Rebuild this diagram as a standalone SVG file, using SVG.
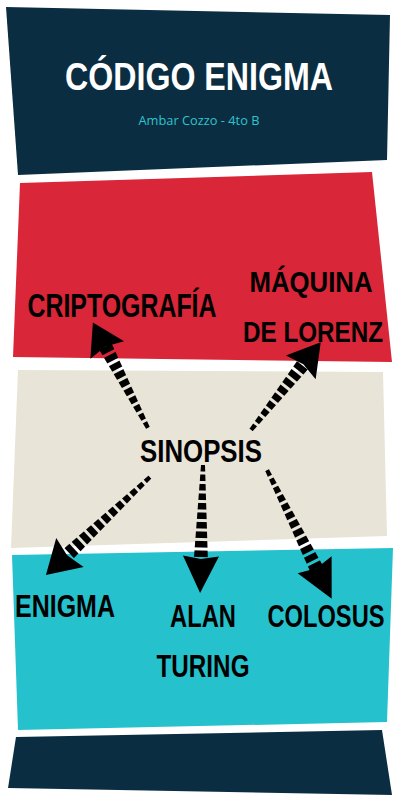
<svg xmlns="http://www.w3.org/2000/svg" width="400" height="800" viewBox="0 0 400 800">
<style>
.lbl{font-family:"Liberation Sans",Arial,sans-serif;font-weight:bold;fill:#000;}
.title{font-family:"Liberation Sans",Arial,sans-serif;font-weight:bold;fill:#fff;}
.sub{font-family:"Open Sans","Liberation Sans",sans-serif;fill:#2ec4cd;}
.arr{fill:#000;}
</style>
<defs>
<mask id="dash" maskUnits="userSpaceOnUse" x="-10" y="-40" width="220" height="80">
<line x1="0" y1="0" x2="200" y2="0" stroke="#fff" stroke-width="60" stroke-dasharray="6.5 3"/>
</mask>
</defs>
<rect width="400" height="800" fill="#fff"/>
<g id="bands">
<polygon points="6,7 390,15 387,160 18,175" fill="#0b2d42"/>
<polygon points="20,183 372,172 392,362 13,357" fill="#d92638"/>
<polygon points="18,370 383,372 387,536 11,548" fill="#e8e4d7"/>
<polygon points="12,555 393,548 387,722 18,730" fill="#25c2cd"/>
<polygon points="16,737 382,730 392,795 8,788" fill="#0b2d42"/>
</g>
<g id="title">
<text class="title" x="199" y="90" font-size="39" text-anchor="middle" textLength="268" lengthAdjust="spacingAndGlyphs">CÓDIGO ENIGMA</text>
<text class="sub" x="199" y="125" font-size="13" text-anchor="middle" textLength="121" lengthAdjust="spacingAndGlyphs">Ambar Cozzo - 4to B</text>
</g>
<g id="connectors">
<g transform="translate(148,428) rotate(-117.6)">
<polygon class="arr" mask="url(#dash)" points="0,-2 0,2 92,7 92,-7"/>
<polygon class="arr" points="88,-19 119,0 88,19 92,0"/>
</g>
<g transform="translate(251,430) rotate(-51.5)">
<polygon class="arr" mask="url(#dash)" points="0,-2 0,2 84,7 84,-7"/>
<polygon class="arr" points="80,-19 112,0 80,19 84,0"/>
</g>
<g transform="translate(150,477) rotate(136.7)">
<polygon class="arr" mask="url(#dash)" points="0,-2 0,2 114,7 114,-7"/>
<polygon class="arr" points="110,-20 143,0 110,20 114,0"/>
</g>
<g transform="translate(203,465) rotate(91.3)">
<polygon class="arr" mask="url(#dash)" points="0,-2 0,2 94,7 94,-7"/>
<polygon class="arr" points="91,-18 128,0 91,18 94,0"/>
</g>
<g transform="translate(267,470) rotate(63.3)">
<polygon class="arr" mask="url(#dash)" points="0,-2 0,2 110,7 110,-7"/>
<polygon class="arr" points="106,-19 144,0 106,19 110,0"/>
</g>
</g>
<g id="sinopsis"><text class="lbl" x="201" y="462" font-size="31" text-anchor="middle" textLength="122" lengthAdjust="spacingAndGlyphs">SINOPSIS</text></g>
<g id="criptografia"><text class="lbl" x="122" y="317" font-size="34" text-anchor="middle" textLength="189" lengthAdjust="spacingAndGlyphs">CRIPTOGRAFÍA</text></g>
<g id="maquina"><text class="lbl" x="311" y="292" font-size="30" text-anchor="middle" textLength="123" lengthAdjust="spacingAndGlyphs">MÁQUINA</text>
<text class="lbl" x="313" y="342" font-size="30" text-anchor="middle" textLength="140" lengthAdjust="spacingAndGlyphs">DE LORENZ</text></g>
<g id="enigma"><text class="lbl" x="65" y="617" font-size="32" text-anchor="middle" textLength="100" lengthAdjust="spacingAndGlyphs">ENIGMA</text></g>
<g id="alan"><text class="lbl" x="203" y="627" font-size="32" text-anchor="middle" textLength="66" lengthAdjust="spacingAndGlyphs">ALAN</text>
<text class="lbl" x="203" y="677" font-size="32" text-anchor="middle" textLength="93" lengthAdjust="spacingAndGlyphs">TURING</text></g>
<g id="colosus"><text class="lbl" x="326" y="627" font-size="32" text-anchor="middle" textLength="117" lengthAdjust="spacingAndGlyphs">COLOSUS</text></g>
</svg>
